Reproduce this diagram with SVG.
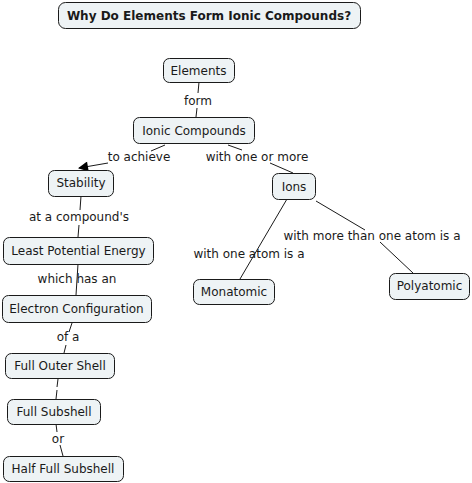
<svg xmlns="http://www.w3.org/2000/svg" width="472" height="483" viewBox="0 0 472 483">
<defs>
<style>
.n rect{fill:#eef3f5;stroke:#1a1a1a;stroke-width:1}
text{font-family:"DejaVu Sans","Verdana",sans-serif;font-size:12px;fill:#1a1a1a;text-anchor:middle;dominant-baseline:central}
.t text{font-weight:bold}
.c line{stroke:#1a1a1a;stroke-width:1}
</style>
<marker id="ah" viewBox="0 0 10 10" refX="9" refY="5" markerWidth="12" markerHeight="10" markerUnits="userSpaceOnUse" orient="auto"><path d="M0,0 L10,5 L0,10 z" fill="#000"/></marker>
</defs>
<rect width="472" height="483" fill="#fff"/>
<g id="connectors" class="c">
<line x1="199" y1="82" x2="198" y2="93"/>
<line x1="197" y1="108" x2="196" y2="117"/>
<line x1="165" y1="145" x2="151" y2="151"/>
<line x1="108" y1="163" x2="79" y2="168" marker-end="url(#ah)"/>
<line x1="228" y1="145" x2="242" y2="150"/>
<line x1="270" y1="163" x2="293" y2="173"/>
<line x1="81" y1="196" x2="80" y2="210"/>
<line x1="79" y1="225" x2="78" y2="237"/>
<line x1="78" y1="264" x2="76" y2="295"/>
<line x1="72" y1="323" x2="69" y2="332"/>
<line x1="66" y1="345" x2="64" y2="353"/>
<line x1="58" y1="379" x2="57" y2="387"/>
<line x1="57" y1="390" x2="56" y2="399"/>
<line x1="56" y1="424" x2="57" y2="432"/>
<line x1="60" y1="445" x2="63" y2="456"/>
<line x1="287" y1="199" x2="240" y2="279"/>
<line x1="316" y1="201" x2="365" y2="230"/>
<line x1="380" y1="242" x2="413" y2="273"/>
</g>
<g id="title" class="n t"><rect x="58.5" y="2.5" width="302" height="26" rx="7"/><text x="209" y="15.5">Why Do Elements Form Ionic Compounds?</text></g>
<g id="elements" class="n"><rect x="163.5" y="58.5" width="71" height="24" rx="6"/><text x="198.5" y="70.5">Elements</text></g>
<g id="ionic" class="n"><rect x="133.5" y="117.5" width="121" height="26" rx="6"/><text x="194" y="130.5">Ionic Compounds</text></g>
<g id="stability" class="n"><rect x="48.5" y="170.5" width="65" height="26" rx="6"/><text x="81" y="183">Stability</text></g>
<g id="ions" class="n"><rect x="272.5" y="173.5" width="43" height="26" rx="6"/><text x="294" y="186.5">Ions</text></g>
<g id="lpe" class="n"><rect x="3.5" y="237.5" width="150" height="27" rx="6"/><text x="78.5" y="250.5">Least Potential Energy</text></g>
<g id="ec" class="n"><rect x="2.5" y="295.5" width="149" height="27" rx="6"/><text x="76.5" y="308.5">Electron Configuration</text></g>
<g id="fos" class="n"><rect x="5.5" y="353.5" width="109" height="25" rx="6"/><text x="60" y="366">Full Outer Shell</text></g>
<g id="fs" class="n"><rect x="7.5" y="399.5" width="93" height="25" rx="6"/><text x="54" y="412">Full Subshell</text></g>
<g id="hfs" class="n"><rect x="3.5" y="456.5" width="120" height="25" rx="6"/><text x="63" y="469">Half Full Subshell</text></g>
<g id="mono" class="n"><rect x="193.5" y="279.5" width="81" height="25" rx="6"/><text x="234" y="292">Monatomic</text></g>
<g id="poly" class="n"><rect x="389.5" y="273.5" width="80" height="26" rx="6"/><text x="429.5" y="286">Polyatomic</text></g>
<g id="labels">
<text x="198" y="101">form</text>
<text x="139" y="157">to achieve</text>
<text x="257" y="157">with one or more</text>
<text x="79" y="217">at a compound's</text>
<text x="77" y="279">which has an</text>
<text x="68" y="337">of a</text>
<text x="58" y="439">or</text>
<text x="249" y="254">with one atom is a</text>
<text x="372" y="236">with more than one atom is a</text>
</g>
</svg>
